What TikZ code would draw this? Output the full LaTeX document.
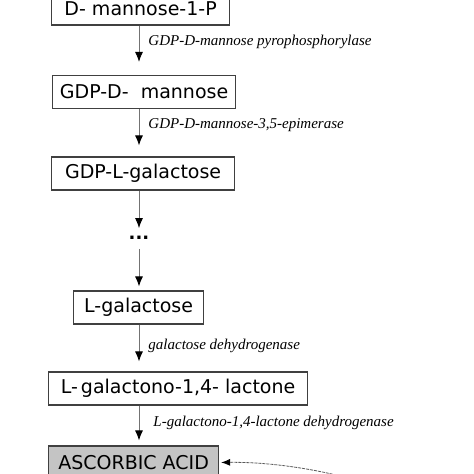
\documentclass[tikz,border=0pt]{standalone}
\usepackage{fontspec}
\setmainfont{Liberation Serif}
\setsansfont{DejaVu Sans}
\usepackage{tikz}
\usetikzlibrary{arrows.meta}

\tikzset{
    compound/.style={draw=black!75, line width=1.2pt, anchor=west, minimum height=33pt, inner sep=0pt, font=\sffamily\fontsize{19}{21}\selectfont},
    reaction/.style={draw=black!55, line width=0.9pt, -{Latex[length=10pt,width=8pt,black]}},
    enzyme/.style={anchor=west, inner sep=0pt, xshift=9pt, font=\itshape\fontsize{15}{17}\selectfont},
    recycle/.style={draw=black!65, line width=0.8pt, dash pattern=on 3pt off 1pt, -{Latex[length=9pt,width=7pt,black]}}
}

\begin{document}
\begin{tikzpicture}[x=1pt,y=-1pt]
            \useasboundingbox (0,0) rectangle (474,474);
            \coordinate (ax) at (139,0);

            \node[compound, minimum width=178pt] (m1p) at (51,8.5) {D- mannose-1-P};
            \node[compound, minimum width=183pt] (gdpm) at (52,92) {GDP-D-\ \ mannose};
            \node[compound, minimum width=183pt] (gdplg) at (51,173.5) {GDP-L-galactose};
            \node[inner sep=0pt] (gap) at (139,238) {\sffamily\bfseries\fontsize{18}{20}\selectfont...};
            \node[compound, minimum width=130pt] (lgal) at (73,307.5) {L-galactose};
            \node[compound, minimum width=259pt] (lgl) at (48,388.5) {L-\hspace{3pt}galactono-1,4- lactone};
            \node[compound, minimum width=170pt, fill=black!23] (aa) at (48,462.5) {ASCORBIC ACID};

            \draw[reaction, shorten >=13pt] (m1p.south -| ax) -- node[enzyme, pos=0.34] {GDP-D-mannose pyrophosphorylase} (gdpm.north -| ax);
            \draw[reaction, shorten >=11pt] (gdpm.south -| ax) -- node[enzyme, pos=0.33] {GDP-D-mannose-3,5-epimerase} (gdplg.north -| ax);
            \draw[reaction, shorten >=8pt] (gdplg.south -| ax) -- (gap);
            \draw[reaction, shorten <=9pt, shorten >=4pt] (gap) -- (lgal.north -| ax);
            \draw[reaction, shorten >=10pt] (lgal.south -| ax) -- node[enzyme, pos=0.46] {galactose dehydrogenase} (lgl.north -| ax);
            \draw[reaction, shorten >=5pt] (lgl.south -| ax) -- node[enzyme, pos=0.44, xshift=5pt] {L-galactono-1,4-lactone dehydrogenase} (aa.north -| ax);

            \coordinate (recyc) at (352,479);
            \draw[recycle, shorten >=2pt] (recyc) .. controls (300,465) and (255,462) .. (aa.east);
\end{tikzpicture}
\end{document}
